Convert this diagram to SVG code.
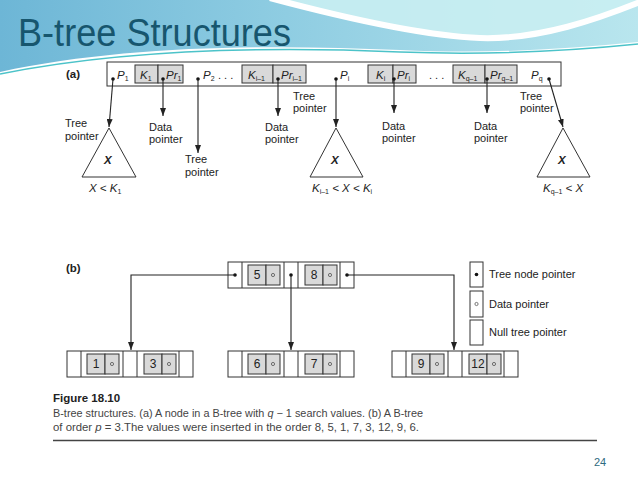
<svg xmlns="http://www.w3.org/2000/svg" xmlns:xlink="http://www.w3.org/1999/xlink" width="638" height="478" viewBox="0 0 638 478">
<defs>
<linearGradient id="hdr" x1="0" y1="0" x2="1" y2="0">
<stop offset="0" stop-color="#6db6d6"/>
<stop offset="0.45" stop-color="#8fcde2"/>
<stop offset="1" stop-color="#b9e6ee"/>
</linearGradient>
<marker id="ah" viewBox="0 0 8 6" refX="8" refY="3" markerWidth="8" markerHeight="6" markerUnits="userSpaceOnUse" orient="auto">
<path d="M0,0 L8,3 L0,6 z" fill="#222"/>
</marker>
<symbol id="bnode" overflow="visible">
<rect x="0" y="0" width="126" height="26" fill="#fff" stroke="#333" stroke-width="1"/>
<path d="M14,0V26M56,0V26M70,0V26M112,0V26" stroke="#333" stroke-width="1"/>
<rect x="20" y="3" width="18" height="20" class="kb"/>
<rect x="38" y="3" width="14" height="20" class="kb"/>
<rect x="77" y="3" width="18" height="20" class="kb"/>
<rect x="95" y="3" width="14" height="20" class="kb"/>
<circle cx="45" cy="13" r="1.6" class="dp"/>
<circle cx="102" cy="13" r="1.6" class="dp"/>
</symbol>
</defs>
<style>
.t{font-family:"Liberation Sans",Arial,sans-serif;font-size:11px;fill:#222}
.it{font-family:"Liberation Sans",Arial,sans-serif;font-size:11.5px;font-style:italic;fill:#222}
.sub{font-size:7px;font-style:normal}
.key{font-family:"Liberation Sans",Arial,sans-serif;font-size:12px;fill:#222;text-anchor:middle}
.b{font-family:"Liberation Sans",Arial,sans-serif;font-size:11.5px;font-weight:bold;fill:#222}
.kb{fill:#d9d9d9;stroke:#333;stroke-width:1}
.dp{fill:none;stroke:#444;stroke-width:0.7}
.ln{fill:none;stroke:#222;stroke-width:1.1}
.tri{fill:#fff;stroke:#333;stroke-width:1}
.dot{fill:#111}
.cap{font-family:"Liberation Sans",Arial,sans-serif;font-size:10.5px;fill:#444}
</style>
<rect width="638" height="478" fill="#ffffff"/>
<!-- header -->
<g id="header">
<path d="M0,0 H638 V42 C560,50 480,54 400,50 C260,44 120,46 0,72 Z" fill="url(#hdr)"/>
<path d="M280,0 C360,20 420,38 480,40 C540,42 600,20 638,4 V0 Z" fill="#c9eef2" opacity="0.9"/>
<path d="M270,-2 C360,22 430,36 480,38 C540,40 600,18 640,2" fill="none" stroke="#ffffff" stroke-width="6"/>
<path d="M0,74 C120,50 260,46 400,52 C480,55 560,52 638,44" fill="none" stroke="#4cc3c9" stroke-width="1.5"/>
<path d="M0,78 C120,56 260,52 400,56 C480,58 560,56 638,48 V80 H0 Z" fill="#ffffff"/>
<text x="18" y="46" font-family="Liberation Sans, Arial, sans-serif" font-size="38" fill="#17566e" textLength="273" lengthAdjust="spacingAndGlyphs">B-tree Structures</text>
</g>
<!-- part (a) -->
<g id="part-a-label"><text x="66" y="78" class="b">(a)</text></g>
<g id="node-a">
<rect x="107" y="62" width="454" height="24" fill="#fff" stroke="#333" stroke-width="1"/>
<rect x="135" y="65" width="23" height="18" class="kb"/>
<rect x="158" y="65" width="25" height="18" class="kb"/>
<rect x="242" y="65" width="31" height="18" class="kb"/>
<rect x="273" y="65" width="33" height="18" class="kb"/>
<rect x="368" y="65" width="25" height="18" class="kb"/>
<rect x="393" y="65" width="23" height="18" class="kb"/>
<rect x="453" y="65" width="32" height="18" class="kb"/>
<rect x="485" y="65" width="32" height="18" class="kb"/>
<text x="117" y="79" class="it">P<tspan class="sub" dy="2">1</tspan></text>
<text x="140" y="79" class="it">K<tspan class="sub" dy="2">1</tspan></text>
<text x="166" y="79" class="it">Pr<tspan class="sub" dy="2">1</tspan></text>
<text x="203" y="79" class="it">P<tspan class="sub" dy="2">2</tspan></text>
<text x="218" y="79" class="t">. . .</text>
<text x="248" y="79" class="it">K<tspan class="sub" dy="2">i–1</tspan></text>
<text x="281" y="79" class="it">Pr<tspan class="sub" dy="2">i–1</tspan></text>
<text x="340" y="79" class="it">P<tspan class="sub" dy="2">i</tspan></text>
<text x="376" y="79" class="it">K<tspan class="sub" dy="2">i</tspan></text>
<text x="397" y="79" class="it">Pr<tspan class="sub" dy="2">i</tspan></text>
<text x="429" y="79" class="t">. . .</text>
<text x="458" y="79" class="it">K<tspan class="sub" dy="2">q–1</tspan></text>
<text x="490" y="79" class="it">Pr<tspan class="sub" dy="2">q–1</tspan></text>
<text x="531" y="79" class="it">P<tspan class="sub" dy="2">q</tspan></text>
<circle cx="113" cy="79" r="1.8" class="dot"/>
<circle cx="163" cy="79" r="1.8" class="dot"/>
<circle cx="198" cy="79" r="1.8" class="dot"/>
<circle cx="278" cy="79" r="1.8" class="dot"/>
<circle cx="336" cy="79" r="1.8" class="dot"/>
<circle cx="394" cy="79" r="1.8" class="dot"/>
<circle cx="487" cy="79" r="1.8" class="dot"/>
<circle cx="549" cy="79" r="1.8" class="dot"/>
</g>
<g id="subtree-1">
<path d="M109,128 L82,177 L136,177 Z" class="tri"/>
<text x="104" y="164" class="it" font-weight="bold">X</text>
<text x="89" y="192" class="it">X &lt; K<tspan class="sub" dy="2">1</tspan></text>
</g>
<g id="subtree-i">
<path d="M336,128 L310,177 L363,177 Z" class="tri"/>
<text x="331" y="164" class="it" font-weight="bold">X</text>
<text x="312" y="192" class="it">K<tspan class="sub" dy="2">i–1</tspan><tspan dy="-2"> &lt; X &lt; K</tspan><tspan class="sub" dy="2">i</tspan></text>
</g>
<g id="subtree-q">
<path d="M563,128 L537,177 L590,177 Z" class="tri"/>
<text x="558" y="164" class="it" font-weight="bold">X</text>
<text x="543" y="192" class="it">K<tspan class="sub" dy="2">q–1</tspan><tspan dy="-2"> &lt; X</tspan></text>
</g>
<g id="labels-a">
<text x="65" y="127" class="t">Tree</text><text x="65" y="140" class="t">pointer</text>
<text x="149" y="131" class="t">Data</text><text x="149" y="143" class="t">pointer</text>
<text x="185" y="163" class="t">Tree</text><text x="185" y="176" class="t">pointer</text>
<text x="265" y="131" class="t">Data</text><text x="265" y="143" class="t">pointer</text>
<text x="293" y="100" class="t">Tree</text><text x="293" y="112" class="t">pointer</text>
<text x="382" y="130" class="t">Data</text><text x="382" y="142" class="t">pointer</text>
<text x="474" y="130" class="t">Data</text><text x="474" y="142" class="t">pointer</text>
<text x="520" y="100" class="t">Tree</text><text x="520" y="112" class="t">pointer</text>
</g>
<!-- part (b) -->
<g id="part-b-label"><text x="66" y="272" class="b">(b)</text></g>
<g id="root">
<use xlink:href="#bnode" x="228" y="262"/>
<text x="257" y="279" class="key">5</text>
<text x="314" y="279" class="key">8</text>
<circle cx="235" cy="275" r="1.8" class="dot"/>
<circle cx="291" cy="275" r="1.8" class="dot"/>
<circle cx="347" cy="275" r="1.8" class="dot"/>
</g>
<g id="leaf-1">
<use xlink:href="#bnode" x="67" y="351"/>
<text x="96" y="368" class="key">1</text>
<text x="153" y="368" class="key">3</text>
</g>
<g id="leaf-2">
<use xlink:href="#bnode" x="228" y="351"/>
<text x="257" y="368" class="key">6</text>
<text x="314" y="368" class="key">7</text>
</g>
<g id="leaf-3">
<use xlink:href="#bnode" x="392" y="351"/>
<text x="421" y="368" class="key">9</text>
<text x="478" y="368" class="key">12</text>
</g>
<g id="legend">
<rect x="470" y="262" width="13" height="25" fill="#fff" stroke="#333"/>
<circle cx="476.5" cy="274.5" r="1.8" class="dot"/>
<rect x="470" y="291" width="13" height="26" fill="#fff" stroke="#333"/>
<circle cx="476.5" cy="304" r="1.6" class="dp"/>
<rect x="470" y="320" width="13" height="25" fill="#fff" stroke="#333"/>
<text x="489" y="278" class="t">Tree node pointer</text>
<text x="489" y="308" class="t">Data pointer</text>
<text x="489" y="336" class="t">Null tree pointer</text>
</g>
<g id="connectors">
<path d="M113,79 L109,127" class="ln" marker-end="url(#ah)"/>
<path d="M163,79 V116" class="ln" marker-end="url(#ah)"/>
<path d="M198,79 V153" class="ln" marker-end="url(#ah)"/>
<path d="M278,79 V116" class="ln" marker-end="url(#ah)"/>
<path d="M336,79 V127" class="ln" marker-end="url(#ah)"/>
<path d="M394,79 V113" class="ln" marker-end="url(#ah)"/>
<path d="M487,79 V113" class="ln" marker-end="url(#ah)"/>
<path d="M549,79 L563,127" class="ln" marker-end="url(#ah)"/>
<path d="M235,275 H131 V350" class="ln" marker-end="url(#ah)"/>
<path d="M291,275 V350" class="ln" marker-end="url(#ah)"/>
<path d="M347,275 H454 V350" class="ln" marker-end="url(#ah)"/>
</g>
<g id="caption">
<text x="53" y="402" class="b" font-size="11.5">Figure 18.10</text>
<text x="53" y="417" class="cap" textLength="370" lengthAdjust="spacingAndGlyphs">B-tree structures. (a) A node in a B-tree with <tspan font-style="italic">q</tspan> − 1 search values. (b) A B-tree</text>
<text x="53" y="431" class="cap" textLength="366" lengthAdjust="spacingAndGlyphs">of order <tspan font-style="italic">p</tspan> = 3.The values were inserted in the order 8, 5, 1, 7, 3, 12, 9, 6.</text>
<path d="M53,440.5 H597" stroke="#444" stroke-width="1.5"/>
<text x="594" y="466" font-family="Liberation Sans, Arial, sans-serif" font-size="11" fill="#2f6b80">24</text>
</g>
</svg>
